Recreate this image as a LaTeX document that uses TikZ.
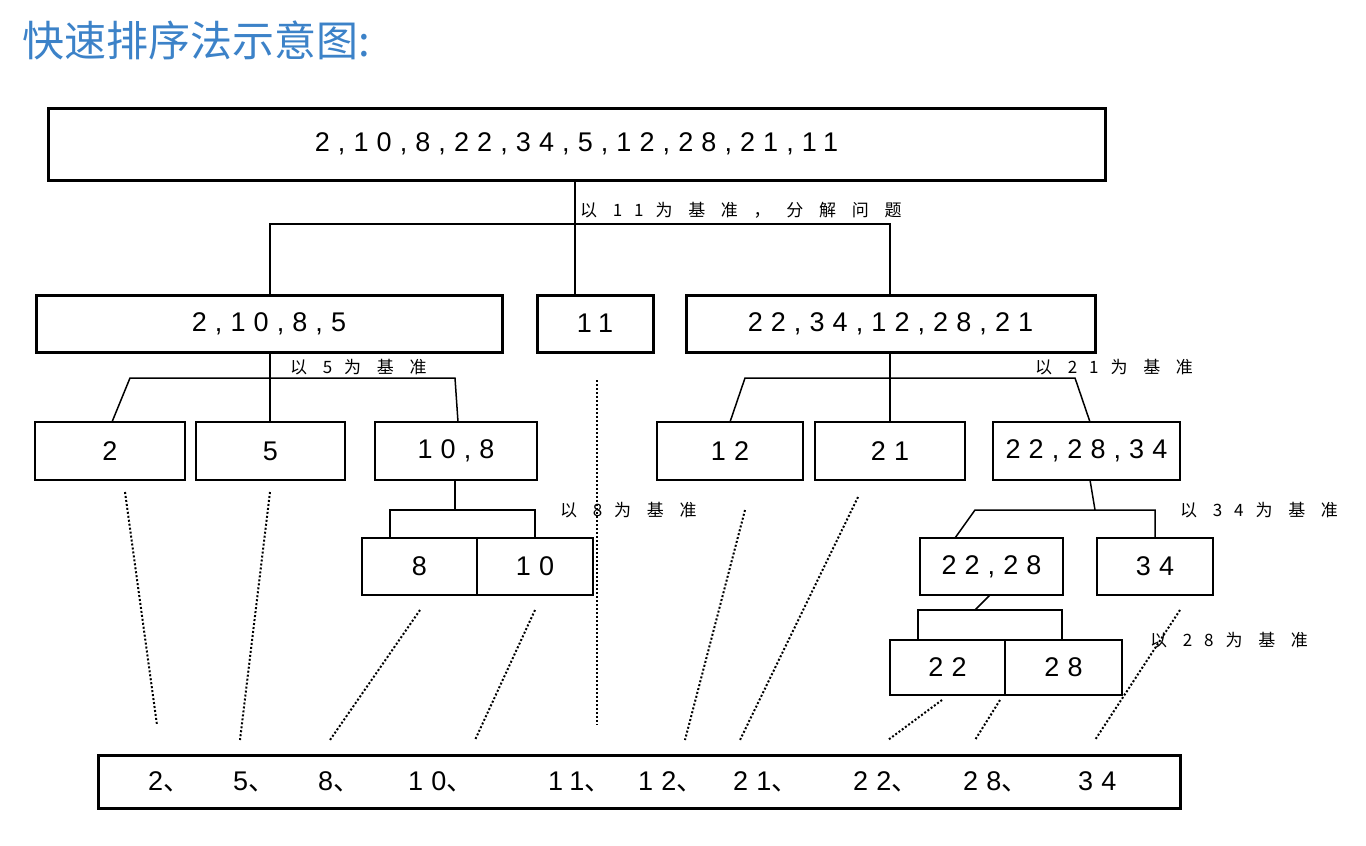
\documentclass[tikz,border=0pt]{standalone}
\usepackage{fontspec}
\setmainfont[LetterSpace=30]{Liberation Sans}
\newfontfamily\cjk{Noto Sans CJK SC}
\newfontfamily\cjkl[LetterSpace=70]{Noto Sans CJK SC}
\definecolor{ttl}{HTML}{3C82C8}
\begin{document}
\begin{tikzpicture}[x=1pt,y=-1pt,
 bx/.style={draw,line width=1.2pt,inner sep=0pt,font=\fontsize{27}{30}\selectfont},
 tbx/.style={bx,line width=3pt},
 lab/.style={anchor=west,font=\cjkl\fontsize{17}{19}\selectfont,inner sep=0pt},
 ln/.style={line width=1.5pt},
 dt/.style={line width=2pt,dotted}]
\useasboundingbox (0,0) rectangle (1366,846);
\node[anchor=west,text=ttl,font=\cjk\fontsize{42}{46}\selectfont,inner sep=0pt] (title) at (22,40) {快速排序法示意图:};
\newcommand\bxat[7]{\node[#1,minimum width={#4-#2},minimum height={#5-#3}] (#6) at ({(#2+#4)/2},{(#3+#5)/2}) {#7};}
\newcommand\rs[2]{\makebox[#1pt][l]{#2{\cjk 、}}}
\bxat{tbx}{48}{108}{1105}{180}{top}{2,10,8,22,34,5,12,28,21,11}
\bxat{tbx}{36}{295}{502}{352}{a}{2,10,8,5}
\bxat{tbx}{537}{295}{653}{352}{b}{11}
\bxat{tbx}{686}{295}{1095}{352}{c}{22,34,12,28,21}
\bxat{bx}{35}{422}{185}{480}{n2}{2}
\bxat{bx}{196}{422}{345}{480}{n5}{5}
\bxat{bx}{375}{422}{537}{480}{n108}{10,8}
\bxat{bx}{657}{422}{803}{480}{n12}{12}
\bxat{bx}{815}{422}{965}{480}{n21}{21}
\bxat{bx}{993}{422}{1180}{480}{n222834}{22,28,34}
\bxat{bx}{362}{538}{477}{595}{n8}{8}
\bxat{bx}{477}{538}{593}{595}{n10}{10}
\bxat{bx}{920}{538}{1063}{595}{n2228}{22,28}
\bxat{bx}{1097}{538}{1213}{595}{n34}{34}
\bxat{bx}{890}{640}{1005}{695}{n22}{22}
\bxat{bx}{1005}{640}{1122}{695}{n28}{28}
\bxat{tbx}{98}{755}{1180}{808}{res}{}
\node[anchor=west,inner sep=0pt,font=\fontsize{27}{30}\selectfont] (restext) at (148,782) {\rs{85}{2}\rs{85}{5}\rs{90}{8}\rs{140}{10}\rs{90}{11}\rs{95}{12}\rs{120}{21}\rs{110}{22}\rs{115}{28}34};
\node[lab] (l1) at (580,210) {以 11为 基 准 ， 分 解 问 题};
\node[lab] (l2) at (290,367) {以 5为 基 准};
\node[lab] (l3) at (1035,367) {以 21为 基 准};
\node[lab] (l4) at (560,510) {以 8为 基 准};
\node[lab] (l5) at (1180,510) {以 34为 基 准};
\node[lab] (l6) at (1150,640) {以 28为 基 准};
% tree connectors
\draw[ln] (575,180) -- (575,224) coordinate (j1);
\draw[ln] (270,295) |- (j1) -| (890,295);
\draw[ln] (j1) -- (575,295);
\draw[ln] (270,352) -- (270,378) coordinate (j2);
\draw[ln] (112,422) -- (130,378) -- (455,378) -- (458,422);
\draw[ln] (j2) -- (270,422);
\draw[ln] (890,352) -- (890,378) coordinate (j3);
\draw[ln] (730,422) -- (745,378) -- (1075,378) -- (1090,422);
\draw[ln] (j3) -- (n21.north);
\draw[ln] (455,480) -- (455,510);
\draw[ln] (390,538) -- (390,510) -- (535,510) -- (535,538);
\draw[ln] (1090,480) -- (1095,510);
\draw[ln] (955,538) -- (975,510) -- (1155,510) -- (1155,538);
\draw[ln] (990,595) -- (975,610);
\draw[ln] (918,640) -- (918,610) -- (1062,610) -- (1062,640);
% dotted
\draw[dt] (125,492) -- (157,725);
\draw[dt] (270,492) -- (240,740);
\draw[dt] (420,610) -- (330,740);
\draw[dt] (535,610) -- (475,740);
\draw[dt] (597,380) -- (597,725);
\draw[dt] (745,510) -- (685,740);
\draw[dt] (858,497) -- (740,740);
\draw[dt] (942,700) -- (888,740);
\draw[dt] (1000,700) -- (975,740);
\draw[dt] (1180,610) -- (1095,740);
\end{tikzpicture}
\end{document}
